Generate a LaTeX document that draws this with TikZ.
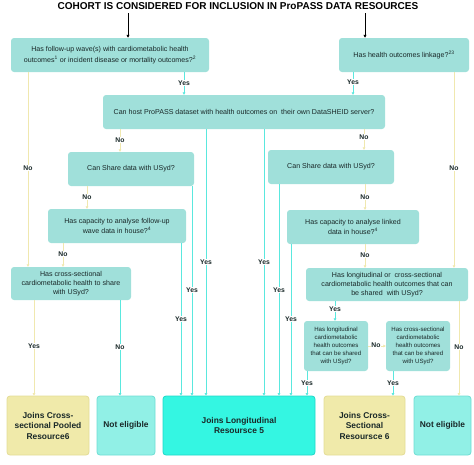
\documentclass[tikz,border=0pt]{standalone}
\usepackage{fontspec}
\setmainfont{Liberation Sans}
\usetikzlibrary{arrows.meta}
\definecolor{boxc}{RGB}{160,224,218}
\definecolor{txt}{RGB}{25,40,40}
\definecolor{cyl}{RGB}{90,232,222}
\definecolor{yel}{RGB}{240,232,175}
\definecolor{ybox}{RGB}{240,234,170}
\definecolor{yboxb}{RGB}{228,220,150}
\definecolor{nebox}{RGB}{145,240,230}
\definecolor{neboxb}{RGB}{110,222,212}
\definecolor{lbox}{RGB}{52,246,226}
\definecolor{lboxb}{RGB}{30,215,200}
\tikzset{
  qbox/.style={fill=boxc, rounded corners=3pt, align=center, text=txt, inner sep=0pt,
    font=\fontsize{7.1}{9.3}\selectfont},
  sbox/.style={fill=boxc, rounded corners=3pt, align=center, text=txt, inner sep=0pt,
    font=\fontsize{6.1}{8}\selectfont, minimum width=64pt, minimum height=50pt},
  endbox/.style={rounded corners=3pt, align=center, text=txt, inner sep=0pt, line width=0.8pt,
    font=\fontsize{8.4}{10.5}\bfseries\selectfont, minimum height=59pt},
  lab/.style={fill=white, text=txt, inner sep=0.7pt, font=\fontsize{6.8}{7}\bfseries\selectfont},
  cy/.style={draw=cyl, line width=0.9pt, -{Triangle[length=2.4pt,width=2.6pt]}},
  ye/.style={draw=yel, line width=0.9pt, -{Triangle[length=2.4pt,width=2.6pt]}},
  blk/.style={draw=black, line width=0.8pt, -{Triangle[length=3pt,width=2.8pt]}}
}
\begin{document}
\begin{tikzpicture}[x=1pt,y=-1pt]
\useasboundingbox (0,0) rectangle (474,464);
\node[font=\fontsize{10}{11}\bfseries\selectfont, text=black, inner sep=0pt] (title) at (238,6) {COHORT IS CONSIDERED FOR INCLUSION IN ProPASS DATA RESOURCES};

\node[qbox, minimum width=198pt, minimum height=34pt, font=\fontsize{7.1}{11.5}\selectfont] (b1) at (110,55) {Has follow-up wave(s) with cardiometabolic health\\outcomes\textsuperscript{1} or incident disease or mortality outcomes?\textsuperscript{2}};
\node[qbox, minimum width=130pt, minimum height=34pt] (b2) at (404,55) {Has health outcomes linkage?\textsuperscript{23}};
\node[qbox, minimum width=282pt, minimum height=34pt] (b3) at (244,112) {Can host ProPASS dataset with health outcomes on\ \ their own DataSHEID server?};
\node[qbox, minimum width=126pt, minimum height=34pt] (b4) at (131,169) {Can Share data with USyd?};
\node[qbox, minimum width=126pt, minimum height=34pt] (b5) at (331,167) {Can Share data with USyd?};
\node[qbox, minimum width=138pt, minimum height=34pt] (b6) at (117,226) {Has capacity to analyse follow-up\\wave data in house?\textsuperscript{4}};
\node[qbox, minimum width=132pt, minimum height=34pt] (b8) at (353,227) {Has capacity to analyse linked\\data in house?\textsuperscript{4}};
\node[qbox, minimum width=120pt, minimum height=33pt] (b7) at (71,283.5) {Has cross-sectional\\cardiometabolic health to share\\with USyd?};
\node[qbox, minimum width=162pt, minimum height=33pt] (b9) at (387,284.5) {Has longitudinal or\ \ cross-sectional\\cardiometabolic health outcomes that can\\be shared\ \ with USyd?};
\node[sbox] (b10) at (336,346) {Has longitudinal\\cardiometabolic\\health outcomes\\that can be shared\\with USyd?};
\node[sbox] (b11) at (418,346) {Has cross-sectional\\cardiometabolic\\health outcomes\\that can be shared\\with USyd?};

\node[endbox, fill=ybox, draw=yboxb, minimum width=82pt] (e1) at (48,425.5) {Joins Cross-\\sectional Pooled\\Resource6};
\node[endbox, fill=nebox, draw=neboxb, minimum width=58pt] (e2) at (126,425.5) {Not eligible};
\node[endbox, fill=lbox, draw=lboxb, minimum width=152pt] (e3) at (239,425.5) {Joins Longitudinal\\Resoursce 5};
\node[endbox, fill=ybox, draw=yboxb, minimum width=81pt] (e4) at (364.5,425.5) {Joins Cross-\\Sectional\\Resoursce 6};
\node[endbox, fill=nebox, draw=neboxb, minimum width=57pt] (e5) at (442.5,425.5) {Not eligible};

% title arrows
\coordinate (t1) at (128,13);
\coordinate (t2) at (365,13);
\draw[blk] (t1) -- (t1 |- b1.north);
\draw[blk] (t2) -- (t2 |- b2.north);

% connectors
\draw[ye] (28,0 |- b1.south) -- (28,0 |- b7.north);
\draw[cy] (184,0 |- b1.south) -- (184,0 |- b3.north);
\draw[cy] (353,0 |- b2.south) -- (353,0 |- b3.north);
\draw[ye] (454,0 |- b2.south) -- (454,0 |- b9.north);
\draw[ye] (120,0 |- b3.south) -- (120,0 |- b4.north);
\draw[ye] (364,0 |- b3.south) -- (364,0 |- b5.north);
\draw[ye] (87,0 |- b4.south) -- (87,0 |- b6.north);
\draw[ye] (365,0 |- b5.south) -- (365,0 |- b8.north);
\draw[ye] (63,0 |- b6.south) -- (63,0 |- b7.north);
\draw[ye] (365,0 |- b8.south) -- (365,0 |- b9.north);
\draw[ye] (34,0 |- b7.south) -- (34,0 |- e1.north);
\draw[cy] (120,0 |- b7.south) -- (120,0 |- e2.north);
\draw[cy] (181,0 |- b6.south) -- (181,0 |- e3.north);
\draw[cy] (192,0 |- b4.south) -- (192,0 |- e3.north);
\draw[cy] (206,0 |- b3.south) -- (206,0 |- e3.north);
\draw[cy] (264,0 |- b3.south) -- (264,0 |- e3.north);
\draw[cy] (279,0 |- b5.south) -- (279,0 |- e3.north);
\draw[cy] (291,0 |- b8.south) -- (291,0 |- e3.north);
\draw[cy] (307,0 |- b10.south) -- (307,0 |- e3.north);
\draw[cy] (335,0 |- b9.south) -- (335,0 |- b10.north);
\draw[ye] (b10.east) -- (b11.west);
\draw[cy] (393,0 |- b11.south) -- (393,0 |- e4.north);
\draw[ye] (459,0 |- b9.south) -- (459,0 |- e5.north);

% labels
\node[lab] (l1) at (28,168) {No};
\node[lab] (l2) at (184,83) {Yes};
\node[lab] (l3) at (353,82) {Yes};
\node[lab] (l4) at (454,168) {No};
\node[lab] (l5) at (120,140) {No};
\node[lab] (l6) at (364,137) {No};
\node[lab] (l7) at (87,197) {No};
\node[lab] (l8) at (365,197) {No};
\node[lab] (l9) at (63,254) {No};
\node[lab] (l10) at (365,255) {No};
\node[lab] (l11) at (34,346) {Yes};
\node[lab] (l12) at (120,347) {No};
\node[lab] (l13) at (181,319) {Yes};
\node[lab] (l14) at (192,290) {Yes};
\node[lab] (l15) at (206,262) {Yes};
\node[lab] (l16) at (264,262) {Yes};
\node[lab] (l17) at (279,290) {Yes};
\node[lab] (l18) at (291,319) {Yes};
\node[lab] (l19) at (307,383) {Yes};
\node[lab] (l20) at (335,309) {Yes};
\node[lab] (l21) at (376,345) {No};
\node[lab] (l22) at (393,383) {Yes};
\node[lab] (l23) at (459,347) {No};
\end{tikzpicture}
\end{document}
